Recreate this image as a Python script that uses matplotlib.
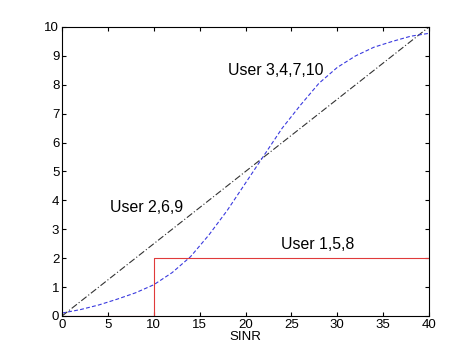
import numpy as np
import matplotlib
matplotlib.use("Agg")
import matplotlib.pyplot as plt

plt.rcParams["font.family"] = ["Liberation Sans", "DejaVu Sans"]

# Data
sinr = [0, 2, 4, 6, 8, 10, 12, 14, 16, 18, 20, 22, 24, 26, 28, 30, 32, 34, 36, 38, 40]
user_3_4_7_10 = [0.1, 0.22, 0.38, 0.58, 0.8, 1.08, 1.5, 2.05, 2.8, 3.65, 4.6, 5.55,
                 6.5, 7.3, 8.05, 8.6, 9.0, 9.3, 9.5, 9.68, 9.78]
lin_x = [0, 40]
user_2_6_9 = [0, 10]
step_x = [0, 10, 10, 40]
user_1_5_8 = [0, 0, 2, 2]

fig = plt.figure(figsize=(4.74, 3.55), dpi=100)
ax = fig.add_axes([0.131, 0.110, 0.774, 0.814])

ax.plot(lin_x, user_2_6_9, color="#333333", lw=0.8, dashes=(6, 2, 1, 2))
ax.plot(sinr, user_3_4_7_10, color="#3a3adf", lw=0.8, dashes=(3.5, 2))
ax.plot(step_x, user_1_5_8, color="#e03a3a", lw=0.8)

ax.text(18.1, 8.5, "User 3,4,7,10", fontsize=11.4, va="center", ha="left")
ax.text(5.2, 3.77, "User 2,6,9", fontsize=11.4, va="center", ha="left")
ax.text(23.9, 2.46, "User 1,5,8", fontsize=11.4, va="center", ha="left")

ax.set_xlim(0, 40)
ax.set_ylim(0, 10)
ax.set_xticks(np.arange(0, 41, 5))
ax.set_yticks(np.arange(0, 11, 1))
ax.tick_params(direction="in", top=True, right=True, labelsize=9.5, length=3, pad=2)
ax.set_xlabel("SINR", fontsize=9.5, labelpad=0)
for s in ax.spines.values():
    s.set_linewidth(0.8)

fig.savefig("out.png", dpi=100)
